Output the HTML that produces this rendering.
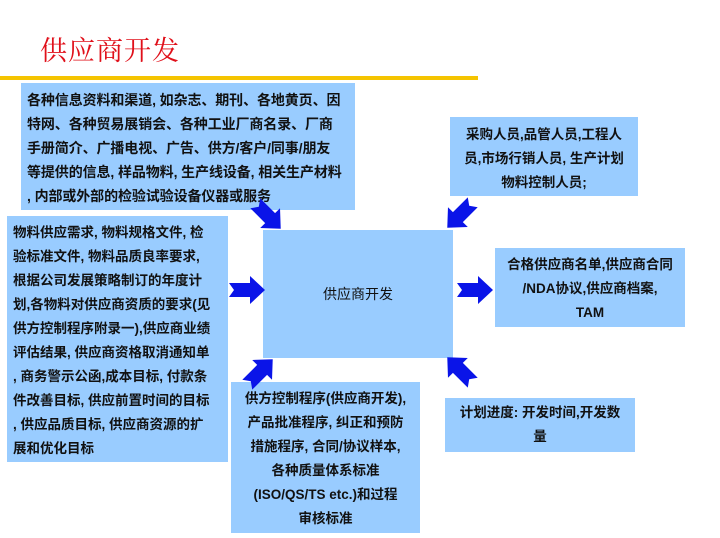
<!DOCTYPE html>
<html><head><meta charset="utf-8"><style>
body{margin:0;width:720px;height:538px;background:#fff;position:relative;overflow:hidden;font-family:"Liberation Sans","Noto Sans CJK SC","WenQuanYi Zen Hei",sans-serif}
.t{position:absolute;left:40px;top:29px;font-size:27px;color:#e0101a;font-family:"Noto Serif CJK SC","Noto Sans CJK SC",serif;letter-spacing:1px}
.line{position:absolute;left:0;top:76px;width:478px;height:4px;background:#f5c400}
.b{position:absolute;background:#99ccff;font-size:13.5px;font-weight:bold;line-height:24px;color:#111;white-space:nowrap;box-sizing:border-box;overflow:visible}
.c{text-align:center}
svg{position:absolute;left:0;top:0}
</style></head><body>
<div class="t">供应商开发</div>
<div class="line"></div>
<div class="b" style="left:21px;top:83px;width:334px;height:127px;padding:5px 0 0 6px;font-size:14px;letter-spacing:-0.1px">各种信息资料和渠道, 如杂志、期刊、各地黄页、因<br>特网、各种贸易展销会、各种工业厂商名录、厂商<br>手册简介、广播电视、广告、供方/客户/同事/朋友<br>等提供的信息, 样品物料, 生产线设备, 相关生产材料<br>, 内部或外部的检验试验设备仪器或服务</div>
<div class="b c" style="left:450px;top:117px;width:188px;height:79px;padding-top:6px">采购人员,品管人员,工程人<br>员,市场行销人员, 生产计划<br>物料控制人员;</div>
<div class="b" style="left:7px;top:216px;width:221px;height:246px;padding:5px 0 0 6px">物料供应需求, 物料规格文件, 检<br>验标准文件, 物料品质良率要求,<br>根据公司发展策略制订的年度计<br>划,各物料对供应商资质的要求(见<br>供方控制程序附录一),供应商业绩<br>评估结果, 供应商资格取消通知单<br>, 商务警示公函,成本目标, 付款条<br>件改善目标, 供应前置时间的目标<br>, 供应品质目标, 供应商资源的扩<br>展和优化目标</div>
<div class="b c" style="left:263px;top:230px;width:190px;height:128px;line-height:128px;font-weight:normal;font-size:14px">供应商开发</div>
<div class="b c" style="left:495px;top:248px;width:190px;height:79px;padding-top:5px">合格供应商名单,供应商合同<br>/NDA协议,供应商档案,<br>TAM</div>
<div class="b c" style="left:231px;top:382px;width:189px;height:151px;padding-top:5px">供方控制程序(供应商开发),<br>产品批准程序, 纠正和预防<br>措施程序, 合同/协议样本,<br>各种质量体系标准<br>(ISO/QS/TS etc.)和过程<br>审核标准</div>
<div class="b c" style="left:445px;top:398px;width:190px;height:54px;padding-top:3px">计划进度: 开发时间,开发数<br>量</div>
<svg width="720" height="538">
<defs><polygon id="a" points="-18,-7 3,-7 3,-14 18,0 3,14 3,7 -18,7 -13,0" fill="#0a14e8"/></defs>
<use href="#a" transform="translate(268,216) rotate(45)"/>
<use href="#a" transform="translate(460,215) rotate(135)"/>
<use href="#a" transform="translate(247,290)"/>
<use href="#a" transform="translate(475,290)"/>
<use href="#a" transform="translate(260,372) rotate(-45)"/>
<use href="#a" transform="translate(460,370) rotate(-135)"/>
</svg>
</body></html>
